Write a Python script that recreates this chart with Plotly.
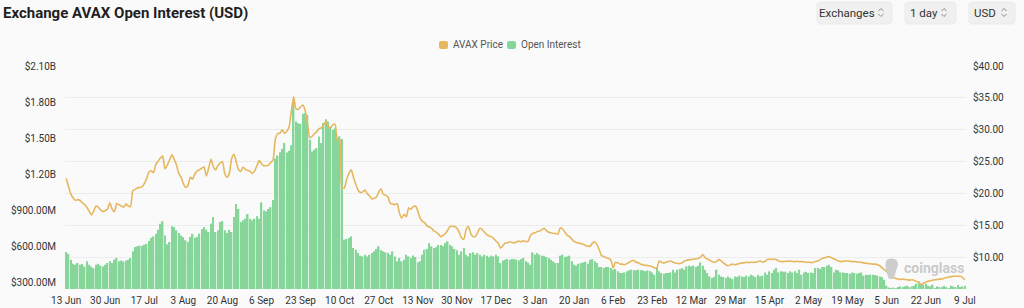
import plotly.graph_objects as go
import pandas as pd

START_DATE = "2025-06-13"

avax_price = [
    22.45, 21.2, 20.0, 19.4, 19.0, 19.1, 19.0, 18.6, 18.3, 17.9,
    17.3, 16.7, 17.3, 18.1, 17.9, 17.5, 17.2, 17.4, 17.6, 18.6,
    17.6, 17.2, 18.5, 18.3, 18.1, 17.9, 18.4, 18.1, 18.0, 20.5,
    20.7, 20.9, 21.0, 21.1, 21.6, 22.4, 23.4, 23.6, 23.3, 24.6,
    25.1, 25.6, 25.9, 23.9, 24.5, 25.3, 26.1, 25.4, 24.5, 23.2,
    22.6, 21.6, 21.0, 21.3, 22.6, 22.3, 23.1, 23.6, 23.75, 24.0,
    24.2, 22.8, 24.0, 25.4, 24.3, 23.75, 24.4, 24.8, 25.0, 23.2,
    22.6, 23.2, 25.5, 26.2, 25.0, 23.8, 23.5, 24.2, 23.8, 23.7,
    23.5, 23.2, 23.6, 24.4, 25.2, 24.7, 24.4, 24.4, 24.5, 24.9,
    25.3, 28.5, 29.4, 29.5, 30.0, 29.5, 29.8, 30.5, 33.0, 35.2,
    33.3, 33.2, 33.6, 33.9, 33.0, 31.0, 28.8, 29.0, 29.4, 29.7,
    30.2, 30.3, 30.8, 31.3, 30.5, 30.3, 30.8, 30.9, 28.4, 28.5,
    21.0, 20.9, 22.2, 23.2, 23.75, 22.6, 21.5, 20.6, 20.2, 20.3,
    20.6, 20.0, 19.7, 19.2, 19.3, 19.5, 20.3, 20.8, 19.9, 19.8,
    19.5, 18.5, 18.4, 18.3, 18.5, 17.0, 16.2, 16.8, 16.4, 17.8,
    17.6, 18.0, 18.1, 17.3, 16.2, 15.7, 15.5, 15.0, 14.8, 14.6,
    14.2, 14.0, 13.7, 13.3, 13.5, 13.8, 14.3, 14.9, 14.9, 14.9,
    14.6, 14.0, 13.1, 12.9, 14.4, 14.9, 13.8, 13.3, 13.3, 13.9,
    14.6, 14.4, 14.0, 13.6, 13.4, 13.3, 13.0, 12.6, 12.3, 11.5,
    11.9, 12.3, 12.3, 12.5, 12.4, 12.3, 12.5, 12.6, 12.5, 12.7,
    12.5, 12.6, 13.5, 13.8, 13.9, 14.1, 14.2, 14.4, 14.6, 14.2,
    14.0, 13.9, 13.8, 13.8, 13.7, 14.7, 14.5, 14.0, 13.5, 13.3,
    12.9, 12.55, 12.4, 12.3, 12.2, 12.1, 11.9, 11.8, 11.8, 12.3,
    12.5, 12.0, 11.2, 10.3, 10.2, 10.0, 9.9, 9.6, 8.4, 9.3,
    9.2, 9.0, 9.0, 8.9, 9.1, 9.3, 9.5, 9.6, 9.3, 9.2,
    9.0, 8.9, 8.8, 8.8, 8.7, 8.6, 8.4, 8.4, 9.5, 9.3,
    9.2, 9.3, 9.4, 9.5, 9.3, 9.2, 9.1, 9.1, 9.2, 9.5,
    9.6, 9.7, 9.7, 9.8, 9.8, 9.9, 10.1, 10.5, 10.0, 9.8,
    9.6, 9.4, 9.3, 9.4, 9.7, 9.5, 9.2, 8.9, 8.75, 8.9,
    9.0, 8.9, 9.0, 9.1, 9.2, 9.2, 9.3, 9.25, 9.3, 9.27,
    9.3, 9.4, 9.5, 9.3, 9.4, 9.7, 9.8, 9.7, 9.8, 9.7,
    9.5, 9.4, 9.4, 9.45, 9.45, 9.5, 9.4, 9.4, 9.45, 9.4,
    9.4, 9.35, 9.3, 9.3, 9.25, 9.27, 9.4, 9.5, 9.7, 9.9,
    10.0, 10.1, 10.2, 10.0, 9.8, 9.7, 9.5, 9.4, 9.45, 9.5,
    9.5, 9.45, 9.4, 9.4, 9.35, 9.3, 9.27, 9.2, 9.15, 9.1,
    9.05, 9.0, 9.0, 8.9, 8.75, 8.4, 8.1, 7.86, 7.4, 7.1,
    6.9, 6.75, 6.67, 6.6, 6.65, 6.6, 6.55, 6.5, 6.56, 6.45,
    6.3, 6.1, 5.8, 6.0, 6.2, 6.3, 6.4, 6.5, 6.56, 6.6,
    6.65, 6.67, 6.8, 6.9, 7.0, 7.05, 7.1, 7.1, 7.1, 7.1,
    6.9, 6.56,
]

open_interest_m = [
    552, 538, 489, 455, 447, 461, 447, 452, 433, 475,
    447, 433, 419, 447, 455, 440, 433, 447, 461, 475,
    461, 489, 503, 475, 482, 475, 482, 489, 503, 558,
    594, 600, 605, 605, 613, 620, 645, 672, 683, 705,
    738, 788, 808, 691, 617, 636, 766, 760, 733, 711,
    691, 677, 650, 636, 677, 705, 672, 677, 705, 744,
    760, 738, 719, 788, 843, 719, 733, 802, 810, 733,
    711, 738, 719, 843, 953, 911, 802, 816, 830, 868,
    830, 816, 830, 850, 830, 966, 897, 891, 911, 925,
    985, 1330, 1355, 1383, 1411, 1460, 1380, 1395, 1440, 1800,
    1638, 1625, 1619, 1702, 1708, 1694, 1486, 1389, 1403, 1417,
    1514, 1459, 1625, 1658, 1638, 1597, 1569, 1583, 1500, 1514,
    1492, 655, 661, 669, 683, 586, 572, 544, 522, 516,
    530, 516, 530, 544, 558, 578, 600, 567, 558, 550,
    544, 530, 558, 516, 475, 503, 475, 489, 530, 516,
    503, 524, 512, 467, 475, 530, 572, 578, 627, 600,
    586, 592, 611, 611, 600, 627, 641, 611, 600, 578,
    567, 530, 558, 586, 530, 516, 544, 550, 530, 544,
    530, 516, 530, 522, 510, 522, 516, 530, 516, 461,
    482, 489, 495, 489, 495, 494, 489, 483, 494, 503,
    475, 466, 447, 549, 530, 544, 530, 522, 522, 511,
    503, 489, 475, 461, 461, 522, 530, 511, 516, 522,
    475, 447, 439, 455, 461, 466, 472, 455, 489, 494,
    475, 461, 428, 428, 420, 428, 428, 420, 406, 411,
    392, 378, 378, 383, 392, 400, 406, 400, 400, 406,
    400, 400, 392, 400, 395, 383, 364, 428, 392, 378,
    372, 378, 378, 383, 406, 383, 406, 411, 420, 406,
    433, 439, 433, 439, 428, 439, 466, 439, 406, 378,
    350, 337, 345, 406, 364, 350, 345, 337, 350, 337,
    328, 350, 345, 356, 350, 345, 356, 350, 364, 356,
    345, 364, 350, 356, 383, 364, 392, 378, 406, 420,
    383, 392, 389, 389, 378, 392, 383, 392, 378, 406,
    364, 383, 389, 378, 383, 378, 420, 420, 411, 428,
    428, 439, 447, 428, 383, 406, 400, 383, 383, 378,
    378, 372, 383, 378, 372, 378, 383, 356, 364, 361,
    364, 364, 361, 356, 350, 345, 322, 272, 258, 253,
    256, 253, 261, 267, 261, 267, 272, 261, 267, 272,
    289, 308, 289, 281, 289, 272, 267, 281, 253, 267,
    261, 261, 272, 261, 253, 272, 267, 261, 278, 261,
    267, 272,
]

x_tick_labels = ["13 Jun", "30 Jun", "17 Jul", "3 Aug", "20 Aug", "6 Sep", "23 Sep", "10 Oct",
                 "27 Oct", "13 Nov", "30 Nov", "17 Dec", "3 Jan", "20 Jan", "6 Feb", "23 Feb",
                 "12 Mar", "29 Mar", "15 Apr", "2 May", "19 May", "5 Jun", "22 Jun", "9 Jul"]
left_tick_values_m = [300, 600, 900, 1200, 1500, 1800, 2100]
left_tick_labels = ["$300.00M", "$600.00M", "$900.00M", "$1.20B", "$1.50B", "$1.80B", "$2.10B"]
right_tick_values = [10, 15, 20, 25, 30, 35, 40]
right_tick_labels = ["$10.00", "$15.00", "$20.00", "$25.00", "$30.00", "$35.00", "$40.00"]

TITLE = "Exchange AVAX Open Interest (USD)"
SERIES_NAMES = ["AVAX Price", "Open Interest"]
BUTTONS = ["Exchanges", "1 day", "USD"]
WATERMARK = "coinglass"

PRICE_COLOR = "#e6b75e"
OI_COLOR = "#86d69a"
BG = "#fafafa"
TEXT = "#333333"
FONT = "Roboto"

n = min(len(avax_price), len(open_interest_m))
dates = pd.date_range(START_DATE, periods=n, freq="D")
tick_dates = pd.date_range(START_DATE, periods=len(x_tick_labels), freq="17D")

W, H = 1024, 308
L, R, T, B = 65, 58, 66, 19
PW, PH = W - L - R, H - T - B


def px(x):
    return (x - L) / PW


def py(y):
    return (H - B - y) / PH


def pt(x, y):
    return f"{px(x):.5f},{py(y):.5f}"


def rrect(x0, y0, x1, y1, r):
    return (f"M {pt(x0 + r, y0)} L {pt(x1 - r, y0)} Q {pt(x1, y0)} {pt(x1, y0 + r)} "
            f"L {pt(x1, y1 - r)} Q {pt(x1, y1)} {pt(x1 - r, y1)} L {pt(x0 + r, y1)} "
            f"Q {pt(x0, y1)} {pt(x0, y1 - r)} L {pt(x0, y0 + r)} Q {pt(x0, y0)} {pt(x0 + r, y0)} Z")


fig = go.Figure()
fig.add_trace(go.Bar(
    x=dates, y=open_interest_m[:n], name=SERIES_NAMES[1], marker_color=OI_COLOR,
    marker_line_width=0, yaxis="y", showlegend=False,
))
fig.add_trace(go.Scatter(
    x=dates, y=avax_price[:n], name=SERIES_NAMES[0], mode="lines",
    line=dict(color=PRICE_COLOR, width=1.6, shape="spline", smoothing=0.6),
    yaxis="y2", showlegend=False,
))

shapes = []
annotations = []

# Title
annotations.append(dict(text=f"<b>{TITLE}</b>", xref="paper", yref="paper", x=px(1), y=py(13),
                        xanchor="left", yanchor="middle", showarrow=False,
                        font=dict(family=FONT, size=15, color="#1f1f1f")))

# Legend (custom)
legend_items = [(439, SERIES_NAMES[0], PRICE_COLOR), (507, SERIES_NAMES[1], OI_COLOR)]
for lx, name, col in legend_items:
    shapes.append(dict(type="path", xref="paper", yref="paper",
                       path=rrect(lx, 41, lx + 9, 49, 2), fillcolor=col, line_width=0))
    annotations.append(dict(text=name, xref="paper", yref="paper", x=px(lx + 12), y=py(45),
                            xanchor="left", yanchor="middle", showarrow=False,
                            font=dict(family=FONT, size=10, color="#555555")))

# Buttons
button_boxes = [(817, 892, 847, 881), (905, 956, 924, 944), (969, 1015, 985, 1004)]
for (bx0, bx1, tx, cx), label in zip(button_boxes, BUTTONS):
    shapes.append(dict(type="path", xref="paper", yref="paper", path=rrect(bx0, 2, bx1, 24, 4),
                       fillcolor="#f0f0f0", line=dict(color="#ebebeb", width=1)))
    annotations.append(dict(text=label, xref="paper", yref="paper", x=px(tx), y=py(12.5),
                            xanchor="center", yanchor="middle", showarrow=False,
                            font=dict(family=FONT, size=11.5, color="#333333")))
    for sgn in (-1, 1):
        shapes.append(dict(type="path", xref="paper", yref="paper",
                           path=f"M {pt(cx - 2.5, 12.5 + sgn * 1.5)} L {pt(cx, 12.5 + sgn * 4)} L {pt(cx + 2.5, 12.5 + sgn * 1.5)}",
                           line=dict(color="#8a8a8a", width=1)))

# Watermark
shapes.append(dict(type="path", xref="paper", yref="paper",
                   path=(f"M {pt(888, 259)} Q {pt(898, 257)} {pt(898, 265)} L {pt(896, 271)} "
                         f"Q {pt(895, 276)} {pt(893, 279)} L {pt(889, 279)} Q {pt(887, 274)} {pt(886, 270)} "
                         f"Q {pt(884, 262)} {pt(888, 259)} Z"),
                   fillcolor="#cdcdcd", line_width=0))
annotations.append(dict(text=f"<b>{WATERMARK}</b>", xref="paper", yref="paper", x=px(902), y=py(268),
                        xanchor="left", yanchor="middle", showarrow=False,
                        font=dict(family=FONT, size=14, color="#cacaca")))

fig.update_layout(
    width=W, height=H,
    margin=dict(l=L, r=R, t=T, b=B, pad=0, autoexpand=False),
    paper_bgcolor=BG, plot_bgcolor=BG,
    bargap=0.35,
    showlegend=False,
    font=dict(family=FONT, size=10, color=TEXT),
    xaxis=dict(type="date", automargin=False,
               range=[dates[0] - pd.Timedelta(hours=12), dates[-1] + pd.Timedelta(hours=12)],
               tickvals=tick_dates, ticktext=x_tick_labels, showgrid=False, zeroline=False,
               showline=False, ticks="", ticklabelstandoff=4,
               tickfont=dict(family=FONT, size=10, color=TEXT)),
    yaxis=dict(range=[245, 2100], tickvals=left_tick_values_m, ticktext=left_tick_labels,
               automargin=False, showgrid=False, zeroline=False, showline=False, ticks="",
               ticklabelstandoff=8, tickfont=dict(family=FONT, size=10, color=TEXT)),
    yaxis2=dict(range=[5.11, 40], tickvals=right_tick_values, ticktext=right_tick_labels,
                automargin=False, overlaying="y", side="right", showgrid=True, gridcolor="#ececec",
                gridwidth=1, zeroline=False, showline=False, ticks="", ticklabelstandoff=6,
                tickfont=dict(family=FONT, size=10, color=TEXT)),
    shapes=shapes,
    annotations=annotations,
)

fig.write_html("out.html")
